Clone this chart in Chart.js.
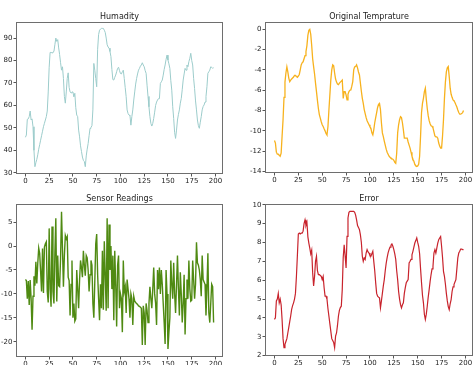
<!DOCTYPE html>
<html><head><meta charset="utf-8">
<script src="https://cdn.jsdelivr.net/npm/chart.js@4"></script>
<style>
html,body{margin:0;padding:0;background:#fff;width:474px;height:365px;overflow:hidden}
canvas{position:absolute}
</style></head><body>
<canvas id="c1" width="237" height="185" style="left:0;top:0"></canvas>
<canvas id="c2" width="237" height="185" style="left:237px;top:0"></canvas>
<canvas id="c3" width="237" height="180" style="left:0;top:185px"></canvas>
<canvas id="c4" width="237" height="180" style="left:237px;top:185px"></canvas>
<script>
const xTicks = [0,25,50,75,100,125,150,175,200];
const humidityTicks = [30,40,50,60,70,80,90];
const tempTicks = [0,-2,-4,-6,-8,-10,-12,-14];
const sensorTicks = [5,0,-5,-10,-15,-20];
const errorTicks = [2,3,4,5,6,7,8,9,10];

const humidity = [45.8,46.8,53.8,54,55,57.5,53.5,54,50.5,40,32.7,34.5,36,38,40.5,42.5,44.5,46.5,48.5,50.5,
52,53.5,55,57.5,66,77,83.6,83.6,83.4,83.8,84,87,90,88.5,89.3,85.6,82.6,79,75.7,77.2,
72,64,61,66,72,74.5,68,66,65.6,66,66,63.8,65.4,59,55.7,55,49,46,42,39.5,
37,35.5,35,32.7,37.5,40.5,43,46.5,49.8,50.2,51,58,78.7,75.7,72,68.3,85,91.5,93.5,94,
94.3,94.3,94.3,93.5,92.5,90,87,86,85.5,84,81.7,76,71.5,71.3,72.5,73.5,75,76.5,77,75.5,
74.2,74,75,75.7,72,68,63.9,58,56.4,55.7,55.5,51.2,55,58,62.4,66,69.5,72,74,75.7,
76.5,77.5,78,79,78,77.2,75.5,74.3,69,64,59.4,55,52,50.8,52,54.2,57,60,61.5,62.4,
63,63,69.8,70.5,71.3,73.5,76,78,80.5,82.4,80.2,78.5,76.5,71,66.8,59.4,54.2,48,45.3,49,
53.5,56,58,61,63.1,67,71.3,74,76.5,75.7,78,77.2,79.5,81,83.2,80,78,72,67.5,62,
58,53.5,51,49.8,52.5,55,58,59.5,60.2,61.5,64,68.3,74.3,75,75.7,77.2,77,76.5,76.8];

const temperature = [-10.95,-11.2,-12.1,-12.3,-12.3,-12.4,-12.5,-12.2,-10.5,-8.9,-6.7,-5.2,-4.3,-3.7,-4.2,-4.8,-5.15,-5.0,-4.9,-4.8,
-4.7,-4.55,-4.55,-4.65,-4.72,-4.6,-4.45,-4.0,-3.5,-3.3,-3.2,-2.9,-2.6,-2.2,-1.6,-0.6,-0.1,0,-0.5,-1.6,
-2.9,-3.67,-4.4,-5.3,-6.13,-7.0,-7.8,-8.4,-8.75,-9.1,-9.4,-9.57,-9.8,-10.0,-10.25,-10.4,-9.6,-8.0,-6.5,-5.0,
-4.0,-3.5,-3.6,-4.3,-4.9,-5.2,-5.4,-5.45,-5.3,-5.2,-5.1,-5.0,-6.8,-6.13,-6.13,-6.46,-6.95,-6.4,-6.13,-6.0,
-5.97,-5.6,-5.15,-4.0,-3.7,-3.67,-3.5,-3.8,-4.2,-4.5,-5.3,-6.1,-6.8,-7.3,-7.9,-8.3,-8.7,-9.0,-9.2,-9.4,
-9.6,-9.75,-10.2,-10.4,-9.9,-9.2,-8.7,-8.2,-7.7,-7.4,-7.3,-7.9,-9.2,-10.2,-10.56,-11.0,-11.4,-11.8,-12.1,-12.3,
-12.5,-12.6,-12.7,-12.75,-12.8,-12.9,-13.1,-13.2,-12.2,-10.2,-9.4,-8.9,-8.6,-8.7,-9.2,-9.9,-10.72,-10.72,-10.72,-10.72,
-11.1,-11.4,-11.7,-12.1,-12.5,-12.8,-13.0,-13.3,-13.45,-13.5,-13.45,-13.3,-12.5,-10.5,-8.2,-7.3,-6.8,-6.13,-5.8,-6.9,
-7.8,-8.5,-9.0,-9.3,-9.5,-9.55,-9.7,-10.1,-10.5,-10.6,-10.6,-10.72,-11.2,-11.5,-11.7,-11.7,-10.5,-8.9,-6.8,-5.2,
-4.2,-3.8,-3.67,-4.66,-5.8,-6.4,-6.7,-6.95,-7.05,-7.2,-7.44,-7.65,-7.95,-8.2,-8.36,-8.36,-8.3,-8.2,-8.0];

const sensor = [-7,-7.2,-11,-7.3,-12.3,-7.1,-11,-17.5,-10.5,-6.3,-8.3,-3.3,-7.8,-3.6,-0.4,-1.5,-5.3,-9.5,-0.5,-9.8,
-0.2,0.5,0.9,-9.5,-11.8,3.7,-9,-12.7,4.1,-9.5,-12,-1.5,5.8,-11.6,-2,-8.3,-8.5,-2.5,7.2,-0.5,
-8.5,-2,2.2,1.5,2,-6.5,-7.2,-14.5,-8,-3,-15,-12,-15.7,-15.2,-5,-9,-13,-7,-3,-4.5,
-6.5,-1,-4,-6.2,-2,-2.5,-5,-9.5,-6,-3,-4,-12,-15,-7.5,0.5,2.5,-6,-11,-15.5,-8,
-13,-1,-13.3,1,-6,-13.5,5.8,-13,4.5,-5,0,-9,-2,-15.5,-1,-8,-16.8,-4,-2,-13,
-10,-11,-18,-3,-9.5,-8.5,-14,-7,-9,-11,-15,-10,-11,-16.5,-10.5,-11.5,-11.8,-12,-12.2,-12.5,
-12.6,-12.8,-13,-20.7,-12.5,-14,-20.7,-12,-13.5,-16,-12,-8.5,-11,-13,-9,-4.5,-10,-12,-16.5,-5,
-9,-4.5,-10,-5,-8,-12,-16,-20.5,-5,-10,-21.5,-18,-15,-3,-8,-11,-3.5,-10,-14,-8,
-2,-9,-14.5,-5.5,-10,-16,-12,-6,-18.5,-11,-7,-11,-3,-9,-11.5,-11.3,-3,-7,-11,-8,
0.8,-3.5,-4,-5,-7,-10.5,-2,-7,-7.5,-8,-14.5,-9,-1.5,-14,-16,-12,-8,-8.5,-16];

const errorVals = [3.92,4.0,4.9,5.0,5.3,4.8,5.0,4.7,3.9,2.9,2.42,2.6,2.75,2.9,3.2,3.5,3.8,4.1,4.45,4.65,
4.8,5.0,5.3,6.2,7.3,8.45,8.5,8.45,8.5,8.5,8.6,9.0,9.2,8.9,9.07,8.3,7.97,7.7,7.4,7.6,
6.4,5.7,6.2,7.0,7.27,6.5,6.3,6.3,6.25,6.2,6.03,6.2,5.6,5.15,5.15,5.0,4.5,4.1,3.7,3.3,
2.9,2.8,2.7,2.42,3.03,3.2,3.6,4.1,4.4,4.55,4.62,5.5,7.2,7.88,7.3,6.65,8.32,9.3,9.6,9.65,
9.65,9.65,9.65,9.65,9.6,9.45,9.2,8.9,8.8,8.68,8.4,8.0,7.27,7.0,7.18,7.1,7.44,7.62,7.5,7.44,
7.3,7.27,7.4,7.53,7.0,6.5,5.86,5.3,5.15,5.1,5.06,4.53,4.9,5.3,5.7,6.03,6.5,6.9,7.2,7.45,
7.62,7.75,7.85,7.92,7.8,7.62,7.4,7.1,6.5,6.03,5.4,5.0,4.7,4.53,4.7,4.8,5.3,5.6,5.86,5.95,
6.03,6.91,7.0,7.1,7.35,7.53,7.75,7.97,8.1,8.24,8.0,7.8,7.4,6.6,5.86,5.2,4.8,4.18,3.92,4.2,
4.62,5.1,5.5,5.94,6.3,6.6,6.74,7.44,7.62,7.44,7.7,7.97,8.15,8.24,8.32,7.8,7.2,6.47,6.2,5.8,
5.3,4.9,4.6,4.44,4.75,4.97,5.4,5.65,5.77,5.9,6.03,6.6,7.18,7.44,7.53,7.65,7.65,7.62,7.62];

const FONT = 'DejaVu Sans';
const framePlugin = {
  id: 'frame',
  afterDraw(chart, args, opts) {
    const {ctx, chartArea: a} = chart;
    ctx.save();
    ctx.strokeStyle = '#6e6e6e';
    ctx.lineWidth = 1;
    ctx.strokeRect(Math.round(a.left) + 0.5, Math.round(a.top) + 0.5,
      Math.round(a.right - a.left) - 1, Math.round(a.bottom - a.top) - 1);
    ctx.fillStyle = '#222';
    ctx.font = '8px "' + FONT + '"';
    ctx.textAlign = 'center';
    ctx.textBaseline = 'alphabetic';
    ctx.fillText(opts.text, (a.left + a.right) / 2, a.top - 3);
    ctx.restore();
  }
};

function makeChart(id, title, values, color, yTicks, ymin, ymax, yW, xH, padTop, padRight, lw) {
  const pts = values.map((v, i) => ({x: i, y: v}));
  new Chart(document.getElementById(id), {
    type: 'line',
    data: { datasets: [{ data: pts, borderColor: color, borderWidth: lw, pointRadius: 0, tension: 0, fill: false }] },
    options: {
      responsive: false, animation: false, devicePixelRatio: 1,
      layout: { padding: { top: padTop, right: padRight, left: 0, bottom: 0 } },
      plugins: { legend: { display: false }, tooltip: { enabled: false }, frame: { text: title } },
      scales: {
        x: {
          type: 'linear', min: -9.9, max: 207.9,
          afterBuildTicks: s => { s.ticks = xTicks.map(v => ({value: v})); },
          afterFit: s => { s.height = xH; },
          grid: { drawOnChartArea: false, drawTicks: true, tickLength: 2.5, color: '#555' },
          border: { display: false },
          ticks: { font: { family: FONT, size: 7 }, color: '#222', padding: 0, maxRotation: 0, autoSkip: false }
        },
        y: {
          type: 'linear', min: ymin, max: ymax,
          afterBuildTicks: s => { s.ticks = yTicks.map(v => ({value: v})); },
          afterFit: s => { s.width = yW; },
          grid: { drawOnChartArea: false, drawTicks: true, tickLength: 2.5, color: '#555' },
          border: { display: false },
          ticks: { font: { family: FONT, size: 7 }, color: '#222', padding: 1, autoSkip: false }
        }
      }
    },
    plugins: [framePlugin]
  });
}

makeChart('c1', 'Humadity', humidity, '#9ccccb', humidityTicks, 29.45, 97.15, 16, 11, 22, 14, 1);
makeChart('c2', 'Original Temprature', temperature, '#f7b21e', tempTicks, -14.15, 0.72, 28, 12, 22, 1, 1.3);
makeChart('c3', 'Sensor Readings', sensor, '#4f8a12', sensorTicks, -23.2, 8.8, 16, 8, 19, 14, 1.4);
makeChart('c4', 'Error', errorVals, '#c8232c', errorTicks, 1.98, 10.04, 28, 9, 19, 1, 1.2);
</script>
</body></html>
